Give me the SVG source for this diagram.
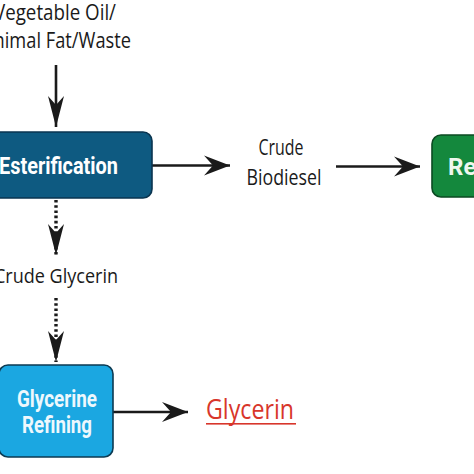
<svg xmlns="http://www.w3.org/2000/svg" width="474" height="474" viewBox="0 0 474 474">
<style>
.lbl{font-family:"Open Sans","Noto Sans","Liberation Sans",sans-serif;fill:#1a1a1a}
.box{font-family:Roboto,"Open Sans","Liberation Sans",sans-serif;font-weight:700}
.ln{stroke:#1a1a1a;stroke-width:2.6;fill:none}
.dot{stroke:#1a1a1a;stroke-width:3.4;fill:none;stroke-dasharray:2.6 2.6}
</style>
<defs>
<marker id="ah" markerUnits="userSpaceOnUse" markerWidth="30" markerHeight="24" viewBox="-28 -12 30 24" refX="0" refY="0" orient="auto">
<path d="M0,0 L-26,-10 L-17,0 L-26,10 Z" fill="#1a1a1a"/>
</marker>
<marker id="av" markerUnits="userSpaceOnUse" markerWidth="34" markerHeight="20" viewBox="-32 -10 34 20" refX="0" refY="0" orient="auto">
<path d="M0,0 L-31,-8 L-22,0 L-31,8 Z" fill="#1a1a1a"/>
</marker>
</defs>
<rect width="474" height="474" fill="#ffffff"/>

<g id="connectors">
<path class="ln" d="M56,65 V127" marker-end="url(#av)"/>
<path class="ln" d="M152,165.5 H230" marker-end="url(#ah)"/>
<path class="ln" d="M336,166.5 H420" marker-end="url(#ah)"/>
<path class="dot" d="M56,200 V255" marker-end="url(#av)"/>
<path class="dot" d="M56,298 V362" marker-end="url(#av)"/>
<path class="ln" d="M113,412 H188" marker-end="url(#ah)"/>
</g>

<g id="feedstock">
<text class="lbl" x="116" y="20" font-size="21" text-anchor="end" textLength="122" lengthAdjust="spacingAndGlyphs">Vegetable Oil/</text>
<text class="lbl" x="131" y="48" font-size="21" text-anchor="end" textLength="149" lengthAdjust="spacingAndGlyphs">Animal Fat/Waste</text>
</g>

<g id="esterification">
<rect x="-12" y="132" width="164" height="66" rx="9" fill="#0e5a81" stroke="#0a3550" stroke-width="1.6"/>
<text class="box" x="-1" y="174" font-size="24" fill="#ffffff" textLength="119" lengthAdjust="spacingAndGlyphs">Esterification</text>
</g>

<g id="crude-biodiesel">
<text class="lbl" x="281" y="155" font-size="21" text-anchor="middle" textLength="45" lengthAdjust="spacingAndGlyphs">Crude</text>
<text class="lbl" x="284" y="185" font-size="21" text-anchor="middle" textLength="75" lengthAdjust="spacingAndGlyphs">Biodiesel</text>
</g>

<g id="refining">
<rect x="432" y="135" width="60" height="62" rx="9" fill="#14883d" stroke="#0b4a22" stroke-width="1.6"/>
<text class="box" x="448" y="175" font-size="24" fill="#eef7ee">Refining</text>
</g>

<g id="crude-glycerin">
<text class="lbl" x="118" y="283" font-size="20" text-anchor="end" textLength="124" lengthAdjust="spacingAndGlyphs">Crude Glycerin</text>
</g>

<g id="glycerine-refining">
<rect x="-1" y="365" width="114" height="92" rx="9" fill="#1ba7e1" stroke="#0c3a52" stroke-width="1.6"/>
<text class="box" x="57" y="407" font-size="23" fill="#eef8fd" text-anchor="middle" textLength="80" lengthAdjust="spacingAndGlyphs">Glycerine</text>
<text class="box" x="57" y="433" font-size="23" fill="#eef8fd" text-anchor="middle" textLength="70" lengthAdjust="spacingAndGlyphs">Refining</text>
</g>

<g id="glycerin">
<text x="206" y="419" font-family="'Open Sans','Noto Sans','Liberation Sans',sans-serif" font-size="27" fill="#d8362b" textLength="88" lengthAdjust="spacingAndGlyphs">Glycerin</text>
<rect x="206" y="423" width="90" height="1.6" fill="#d8362b"/>
</g>
</svg>
